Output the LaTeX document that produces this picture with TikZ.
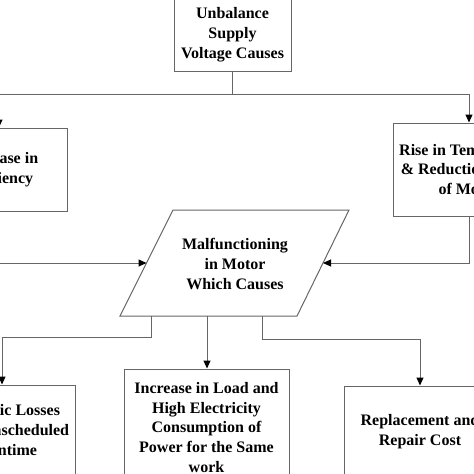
\documentclass[tikz,border=0pt]{standalone}
\usepackage{fontspec}
\setmainfont{Liberation Serif}
\usetikzlibrary{arrows.meta,calc}
\begin{document}
\begin{tikzpicture}[x=1pt,y=-1pt,
  txt/.style={align=center, font=\fontsize{16}{19.8}\selectfont\bfseries, text=black},
  box/.style={txt, draw=black!60, line width=1pt, rectangle, inner sep=2pt},
  conn/.style={draw=black!60, line width=1pt},
  arr/.style={conn, -{Triangle[length=8pt,width=7pt,color=black]}}]
\useasboundingbox (0,0) rectangle (474,474);
\clip (0,0) rectangle (474,474);
\fill[white] (0,0) rectangle (474,474);
% boxes
\node[box, minimum width=117pt, minimum height=72pt] (top) at (232.5,35) {Unbalance\\Supply\\Voltage Causes};
\node[box, minimum width=136pt, minimum height=83pt] (left1) at (-1,169.5) {Decrease in\\Efficiency};
\node[box, minimum width=152pt, minimum height=93pt] (right1) at (469,169.5) {Rise in Temperature\\\& Reduction in Life\\of Motor};
\node[box, minimum width=146pt, minimum height=90pt] (left2) at (2,430) {Economic Losses\\due to Unscheduled\\Downtime};
\node[box, minimum width=165pt, minimum height=117pt] (mid) at (206.5,427.5) {Increase in Load and\\High Electricity\\Consumption of\\Power for the Same\\work};
\node[box, minimum width=152pt, minimum height=92pt] (right2) at (420,432) {Replacement and\\Repair Cost};
% parallelogram
\coordinate (ptl) at (173,210);
\coordinate (ptr) at (349,210);
\coordinate (pbr) at (297,316);
\coordinate (pbl) at (120,316);
\draw[conn] (ptl) -- (ptr) -- (pbr) -- (pbl) -- cycle;
\node[txt] (mal) at (235,264) {Malfunctioning\\in Motor\\Which Causes};
\coordinate (pl) at ($(ptl)!0.5!(pbl)$);
\coordinate (pr) at ($(ptr)!0.5!(pbr)$);
\coordinate (pb1) at (151,316);
\coordinate (pb2) at (207,316);
\coordinate (pb3) at (262,316);
% connectors
\draw[arr] (top.south) -- ++(0,23) -| (left1.north);
\draw[arr] (top.south) -- ++(0,23) -| (right1.north);
\draw[arr] (left1.south) |- (pl);
\draw[arr] (right1.south) |- (pr);
\draw[arr] (pb1) -- ++(0,21) -| (left2.north);
\draw[arr] (pb2) -- (pb2 |- mid.north);
\draw[arr] (pb3) -- ++(0,23) -| (right2.north);
\end{tikzpicture}
\end{document}
